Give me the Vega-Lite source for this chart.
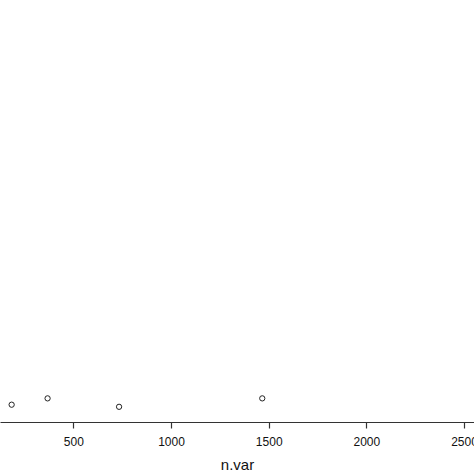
{
  "$schema": "https://vega.github.io/schema/vega-lite/v6.json",
  "autosize": "none",
  "padding": {"top": 0, "left": 0, "right": 0, "bottom": 52},
  "width": 474,
  "height": 422,
  "background": "white",
  "data": {"values": [
    {"n.var": 184, "value": 4.1},
    {"n.var": 368, "value": 5.6},
    {"n.var": 734, "value": 3.6},
    {"n.var": 1467, "value": 5.6}
  ]},
  "mark": {"type": "point", "shape": "circle", "filled": false, "stroke": "#222222", "strokeWidth": 1, "size": 28, "opacity": 1},
  "encoding": {
    "x": {"field": "n\\.var", "type": "quantitative", "title": "n.var",
      "scale": {"domain": [124.4, 2551], "nice": false, "zero": false},
      "axis": {"values": [500, 1000, 1500, 2000, 2500], "format": "d", "grid": false, "domainColor": "#333333", "domainWidth": 1.2, "tickColor": "#333333", "tickWidth": 1.2, "tickSize": 6, "labelFont": "Liberation Sans", "labelFontSize": 12, "labelColor": "#111111", "labelPadding": 8, "labelFlush": false, "labelOverlap": false, "titleFont": "Liberation Sans", "titleFontSize": 15, "titleFontWeight": "normal", "titleColor": "#111111", "titlePadding": 10}},
    "y": {"field": "value", "type": "quantitative", "scale": {"domain": [0, 100], "nice": false}, "axis": null}
  },
  "config": {"view": {"stroke": null}}
}
